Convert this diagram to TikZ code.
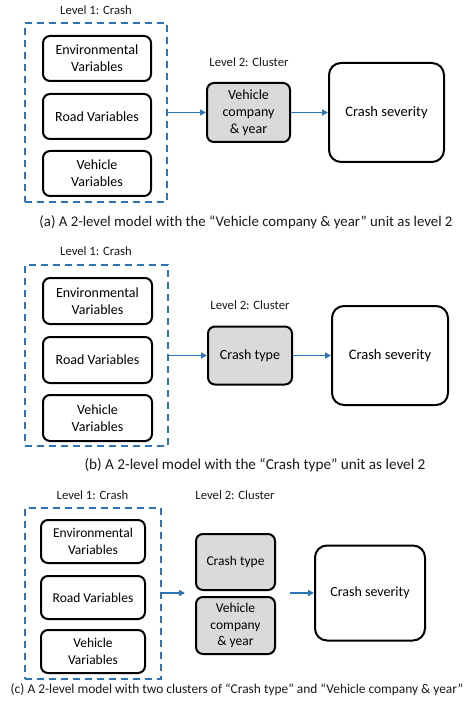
\documentclass[tikz,border=0pt]{standalone}
\usepackage{fontspec}
\setmainfont{Carlito}
\usetikzlibrary{arrows.meta, positioning, calc}
\definecolor{frameblue}{RGB}{46,117,182}
\definecolor{clustergray}{RGB}{218,218,218}

\begin{document}
\begin{tikzpicture}[
            x=1pt, y=-1pt,
            varbox/.style={rectangle, draw=black, line width=2pt, fill=white, minimum width=108pt, minimum height=45pt, align=center, rounded corners=7pt, inner sep=1pt, font=\fontsize{14}{17}\selectfont},
            clubox/.style={varbox, fill=clustergray, minimum width=83pt, minimum height=59pt},
            sevbox/.style={varbox, minimum width=115pt, minimum height=99pt, rounded corners=12pt, font=\fontsize{14.5}{17}\selectfont},
            crashframe/.style={rectangle, draw=frameblue, line width=2pt, dash pattern=on 7pt off 5pt, minimum width=142pt, minimum height=179pt, inner sep=0pt},
            link/.style={-{Triangle[length=6pt, width=6pt]}, line width=1.6pt, draw=frameblue},
            lvl/.style={font=\fontsize{12.7}{15}\selectfont, text=black!90},
            capt/.style={font=\fontsize{14.8}{17}\selectfont, text=black!90}
        ]
    \useasboundingbox (0,0) rectangle (474,711);

    % (a) vehicle company & year as level 2
    \node[crashframe] (frameA) at (96,112.5) {};
    \node[varbox] (envA) at (97,58.5) {Environmental\\Variables};
    \node[varbox, below=11pt of envA] (roadA) {Road Variables};
    \node[varbox, below=10pt of roadA] (vehA) {Vehicle\\Variables};
    \node[lvl] (lvlOneA) at (96,10) {Level 1: Crash};
    \node[clubox] (compA) at (248.5,112.5) {Vehicle\\company\\\& year};
    \node[lvl] (lvlTwoA) at (249,62) {Level 2: Cluster};
    \node[sevbox] (sevA) at (386.5,112.5) {Crash severity};
    \node[capt] (captA) at (246,222) {(a) A 2-level model with the “Vehicle company \& year” unit as level 2};

    \draw[link] (frameA.east) -- (compA.west);
    \draw[link] (compA.east) -- (sevA.west);

    % (b) crash type as level 2
    \node[crashframe, minimum width=143pt, minimum height=181pt] (frameB) at (96.5,355.5) {};
    \node[varbox, minimum width=109pt, minimum height=46pt] (envB) at (97.5,301) {Environmental\\Variables};
    \node[varbox, minimum width=109pt, minimum height=46pt, below=11pt of envB] (roadB) {Road Variables};
    \node[varbox, minimum width=109pt, minimum height=46pt, below=10pt of roadB] (vehB) {Vehicle\\Variables};
    \node[lvl] (lvlOneB) at (96,251) {Level 1: Crash};
    \node[clubox, minimum width=84pt, minimum height=58pt] (typeB) at (250,355.5) {Crash type};
    \node[lvl] (lvlTwoB) at (250,305) {Level 2: Cluster};
    \node[sevbox, minimum width=116pt] (sevB) at (390,355.5) {Crash severity};
    \node[capt, font=\fontsize{15.2}{17}\selectfont] (captB) at (255,465) {(b) A 2-level model with the “Crash type” unit as level 2};

    \draw[link] (frameB.east) -- (typeB.west);
    \draw[link] (typeB.east) -- (sevB.west);

    % (c) two clusters
    \node[crashframe, minimum width=136pt, minimum height=171pt] (frameC) at (93,593) {};
    \node[varbox, minimum width=104pt, minimum height=43pt, font=\fontsize{13.5}{16.5}\selectfont] (envC) at (93,541.5) {Environmental\\Variables};
    \node[varbox, minimum width=104pt, minimum height=43pt, font=\fontsize{13.5}{16.5}\selectfont, below=11pt of envC] (roadC) {Road Variables};
    \node[varbox, minimum width=104pt, minimum height=43pt, font=\fontsize{13.5}{16.5}\selectfont, below=9pt of roadC] (vehC) {Vehicle\\Variables};
    \node[lvl] (lvlOneC) at (92.5,495) {Level 1: Crash};
    \node[lvl] (lvlTwoC) at (235,495) {Level 2: Cluster};
    \node[clubox, minimum width=79pt, minimum height=56pt, font=\fontsize{13.5}{16.5}\selectfont] (typeC) at (235.5,562) {Crash type};
    \node[clubox, minimum width=79pt, minimum height=57pt, font=\fontsize{13.5}{16.5}\selectfont, below=5pt of typeC] (compC) {Vehicle\\company\\\& year};
    \node[sevbox, minimum width=110pt, minimum height=95pt, font=\fontsize{14}{16.5}\selectfont] (sevC) at (370,593) {Crash severity};
    \node[capt, font=\fontsize{13.4}{16}\selectfont] (captC) at (237,690) {(c) A 2-level model with two clusters of “Crash type” and “Vehicle company \& year”};

    \coordinate (inC) at (185,593);
    \coordinate (outC) at (290,593);
    \draw[link] (frameC.east) -- (inC);
    \draw[link] (outC) -- (sevC.west);

\end{tikzpicture}
\end{document}
